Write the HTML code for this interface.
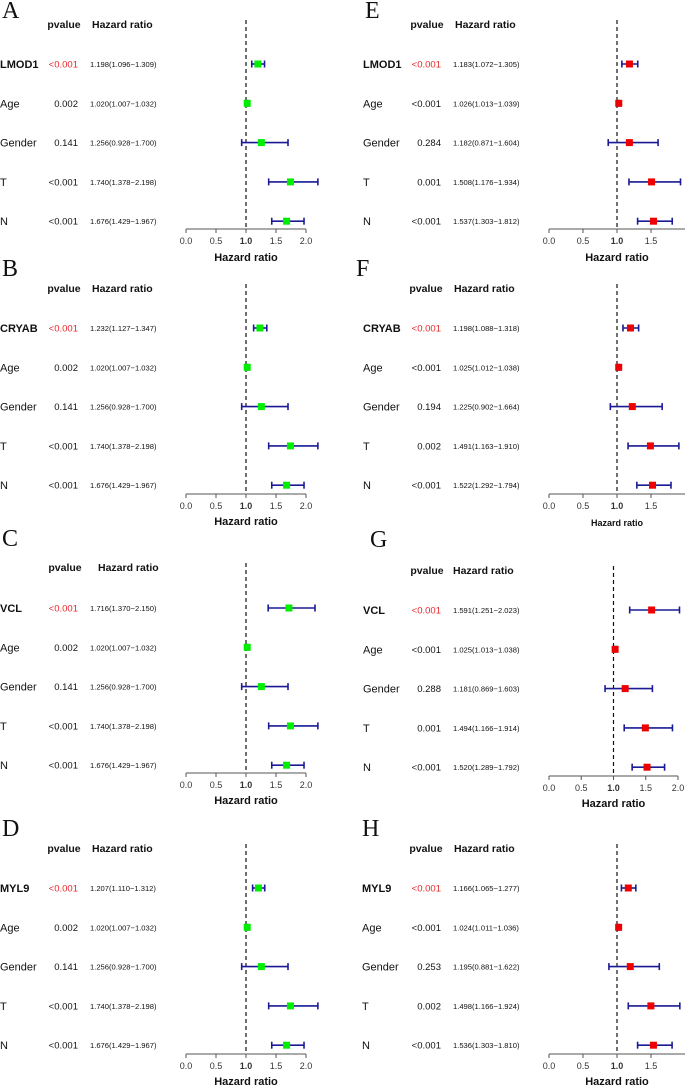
<!DOCTYPE html>
<html><head><meta charset="utf-8"><style>
html,body{margin:0;padding:0;background:#fff;width:685px;height:1085px;overflow:hidden}
svg{display:block}
</style></head><body>
<svg id="chart" width="685" height="1085" viewBox="0 0 685 1085" xmlns="http://www.w3.org/2000/svg" font-family="Liberation Sans, sans-serif"></svg>
<script>
// ---- data ----
const rowLabels = ["LMOD1","Age","Gender","T","N"];
const geneA = "LMOD1", geneB = "CRYAB", geneC = "VCL", geneD = "MYL9";
const pvalA = ["<0.001","0.002","0.141","<0.001","<0.001"];
const hrA = [1.198,1.020,1.256,1.740,1.676];
const loA = [1.096,1.007,0.928,1.378,1.429];
const hiA = [1.309,1.032,1.700,2.198,1.967];
const pvalB = ["<0.001","0.002","0.141","<0.001","<0.001"];
const hrB = [1.232,1.020,1.256,1.740,1.676];
const loB = [1.127,1.007,0.928,1.378,1.429];
const hiB = [1.347,1.032,1.700,2.198,1.967];
const pvalC = ["<0.001","0.002","0.141","<0.001","<0.001"];
const hrC = [1.716,1.020,1.256,1.740,1.676];
const loC = [1.370,1.007,0.928,1.378,1.429];
const hiC = [2.150,1.032,1.700,2.198,1.967];
const pvalD = ["<0.001","0.002","0.141","<0.001","<0.001"];
const hrD = [1.207,1.020,1.256,1.740,1.676];
const loD = [1.110,1.007,0.928,1.378,1.429];
const hiD = [1.312,1.032,1.700,2.198,1.967];
const pvalE = ["<0.001","<0.001","0.284","0.001","<0.001"];
const hrE = [1.183,1.026,1.182,1.508,1.537];
const loE = [1.072,1.013,0.871,1.176,1.303];
const hiE = [1.305,1.039,1.604,1.934,1.812];
const pvalF = ["<0.001","<0.001","0.194","0.002","<0.001"];
const hrF = [1.198,1.025,1.225,1.491,1.522];
const loF = [1.088,1.012,0.902,1.163,1.292];
const hiF = [1.318,1.038,1.664,1.910,1.794];
const pvalG = ["<0.001","<0.001","0.288","0.001","<0.001"];
const hrG = [1.591,1.025,1.181,1.494,1.520];
const loG = [1.251,1.013,0.869,1.166,1.289];
const hiG = [2.023,1.038,1.603,1.914,1.792];
const pvalH = ["<0.001","<0.001","0.253","0.002","<0.001"];
const hrH = [1.166,1.024,1.195,1.498,1.536];
const loH = [1.065,1.011,0.881,1.166,1.303];
const hiH = [1.277,1.036,1.622,1.924,1.810];
const ticksLeft = [0,0.5,1,1.5,2];
const ticksRight = [0,0.5,1,1.5];
const tickLabelsLeft = ["0.0","0.5","1.0","1.5","2.0"];
const tickLabelsRight = ["0.0","0.5","1.0","1.5"];

const NS="http://www.w3.org/2000/svg";
const svg=document.getElementById('chart');
function mk(tag,attrs,parent,text){
  const e=document.createElementNS(NS,tag);
  for(const k in attrs)e.setAttribute(k,attrs[k]);
  if(text!==undefined)e.textContent=text;
  (parent||svg).appendChild(e);return e;
}

const panels=[
 {id:"A",gene:geneA,p:pvalA,hr:hrA,lo:loA,hi:hiA,color:"#00ee00",lx:2,ly:10,hy:24,r0:64,ay:229,ty:257,x0:186,ppu:60,nx:0,pr:78,hx:90,phx:64,hhx:92,ticks:ticksLeft,tl:tickLabelsLeft,tfs:11},
 {id:"B",gene:geneB,p:pvalB,hr:hrB,lo:loB,hi:hiB,color:"#00ee00",lx:2,ly:268,hy:288,r0:328,ay:494,ty:521,x0:186,ppu:60,nx:0,pr:78,hx:90,phx:64,hhx:92,ticks:ticksLeft,tl:tickLabelsLeft,tfs:11},
 {id:"C",gene:geneC,p:pvalC,hr:hrC,lo:loC,hi:hiC,color:"#00ee00",lx:2,ly:538,hy:567,r0:608,ay:773,ty:800,x0:186,ppu:60,nx:0,pr:78,hx:90,phx:65,hhx:98,ticks:ticksLeft,tl:tickLabelsLeft,tfs:11},
 {id:"D",gene:geneD,p:pvalD,hr:hrD,lo:loD,hi:hiD,color:"#00ee00",lx:2,ly:828,hy:848,r0:888,ay:1054,ty:1081,x0:186,ppu:60,nx:0,pr:78,hx:90,phx:64,hhx:92,ticks:ticksLeft,tl:tickLabelsLeft,tfs:11},
 {id:"E",gene:geneA,p:pvalE,hr:hrE,lo:loE,hi:hiE,color:"#ee0000",lx:365,ly:10,hy:24,r0:64,ay:229,ty:257,x0:549,ppu:68,nx:363,pr:441,hx:453,phx:427,hhx:455,ticks:ticksRight,tl:tickLabelsRight,tfs:11},
 {id:"F",gene:geneB,p:pvalF,hr:hrF,lo:loF,hi:hiF,color:"#ee0000",lx:356,ly:268,hy:288,r0:328,ay:494,ty:522,x0:549,ppu:68,nx:363,pr:441,hx:453,phx:426,hhx:454,ticks:ticksRight,tl:tickLabelsRight,tfs:9},
 {id:"G",gene:geneC,p:pvalG,hr:hrG,lo:loG,hi:hiG,color:"#ee0000",lx:370,ly:539,hy:570,r0:610,ay:776,ty:803,x0:549,ppu:64.5,nx:363,pr:441,hx:453,phx:427,hhx:453,ticks:ticksLeft,tl:tickLabelsLeft,tfs:11},
 {id:"H",gene:geneD,p:pvalH,hr:hrH,lo:loH,hi:hiH,color:"#ee0000",lx:362,ly:828,hy:848,r0:888,ay:1054,ty:1081,x0:549,ppu:68,nx:362,pr:441,hx:453,phx:426,hhx:454,ticks:ticksRight,tl:tickLabelsRight,tfs:11}
];

panels.forEach(P=>{
  const g=mk('g',{});
  
  
  const X=v=>P.x0+v*P.ppu;
  const step=39.3;
  const letter=mk('text',{x:P.lx,y:P.ly+8,'font-family':'Liberation Serif, serif','font-size':24,fill:'#111'},g,P.id);
  
  
  const h1=mk('text',{x:P.phx,y:P.hy+4,'font-size':10.5,'font-weight':'bold','text-anchor':'middle',fill:'#111'},g,'pvalue');
  
  
  const h2=mk('text',{x:P.hhx,y:P.hy+4,'font-size':10.5,'font-weight':'bold',fill:'#111'},g,'Hazard ratio');
  
  
  // reference line
  const ref=mk('line',{x1:X(1),x2:X(1),y1:P.hy-4,y2:P.ay,stroke:'#111','stroke-width':1.2,'stroke-dasharray':'4,3'},g);
  
  
  for(let i=0;i<5;i++){
    const y=P.r0+i*step;
    const lbl=i===0?P.gene:rowLabels[i];
    const nt=mk('text',{x:P.nx,y:y+4,'font-size':11,'font-weight':i===0?'bold':'normal',fill:'#111'},g,lbl);
    
    
    const pt=mk('text',{x:P.pr,y:y+3.5,'font-size':9.5,'text-anchor':'end',fill:i===0?'#e8262a':'#111'},g,P.p[i]);
    
    
    const ht=mk('text',{x:P.hx,y:y+3,'font-size':7.6,fill:'#111'},g,P.hr[i].toFixed(3)+'('+P.lo[i].toFixed(3)+'\u2212'+P.hi[i].toFixed(3)+')');
    
    
    const ci=mk('g',{stroke:'#1a1a96','stroke-width':1.6},g);
    
    
    mk('line',{x1:X(P.lo[i]),x2:X(P.hi[i]),y1:y,y2:y},ci);
    mk('line',{x1:X(P.lo[i]),x2:X(P.lo[i]),y1:y-3.5,y2:y+3.5},ci);
    mk('line',{x1:X(P.hi[i]),x2:X(P.hi[i]),y1:y-3.5,y2:y+3.5},ci);
    const sq=mk('rect',{x:X(P.hr[i])-3.5,y:y-3.5,width:7,height:7,fill:P.color},g);
    
    
  }
  // axis
  const ax=mk('g',{},g);
  
  
  mk('line',{x1:X(0),x2:Math.min(X(2),685),y1:P.ay,y2:P.ay,stroke:'#555','stroke-width':1},ax);
  P.ticks.forEach((t,k)=>{
    mk('line',{x1:X(t),x2:X(t),y1:P.ay,y2:P.ay+4,stroke:'#555','stroke-width':1},ax);
    const tt=mk('text',{x:X(t),y:P.ay+15,'font-size':9,'text-anchor':'middle',fill:'#333','font-weight':t===1?'bold':'normal'},ax,P.tl[k]);
    
    
  });
  const title=mk('text',{x:X(1),y:P.ty+4,'font-size':P.tfs,'font-weight':'bold','text-anchor':'middle',fill:'#111'},g,'Hazard ratio');
  
  
});
</script>
</body></html>
